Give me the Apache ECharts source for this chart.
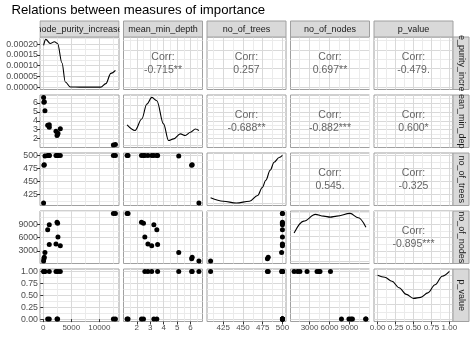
<!DOCTYPE html>
<html><head><meta charset="utf-8">
<script src="https://cdn.jsdelivr.net/npm/echarts@6/dist/echarts.min.js"></script>
<style>html,body{margin:0;padding:0;background:#fff}#c{width:474px;height:338px}</style>
</head><body><div id="c"></div>
<script>
// ---------- data ----------
const varNames = ['node_purity_increase','mean_min_depth','no_of_trees','no_of_nodes','p_value'];
const rowStripLabels = ['e_purity_incre','ean_min_dep','no_of_trees','no_of_nodes','p_value'];
const titleText = 'Relations between measures of importance';

const nodePurityIncrease = [60,120,180,300, 790,1070,1070,2450,2560,2620,2270,3040, 12500,12860];
const meanMinDepth       = [6.62,6.08,6.12,5.12, 3.49,3.27,3.55,2.35,2.5,2.6,2.83,3.11, 1.28,1.35];
const noOfTrees          = [409,481,482,499, 500,500,500,500,500,500,500,500, 500,500];
const noOfNodes          = [675,1200,1550,2625, 7800,8925,4425,9450,9225,6150,4575,4125, 11450,11480];
const pValue             = [1,1,1,1, 0,0,1,0,0,1,1,1, 0,0];

// density curves
const npiDensX   = [60,450,1230,2000,2550,3340,3930,4840,6500,8500,10250,11150,12050,12860];
const npiDensY   = [0.000194,0.000222,0.000203,0.000211,0.000203,0.000112,0.000024,0.0000005,0,0,0,0.000016,0.000064,0.000078];
const mmdDensX   = [1.28,1.87,2.37,2.75,3.12,3.49,3.99,4.36,4.74,5.24,5.61,5.99,6.36,6.62];
const mmdDensY   = [0.152,0.11,0.197,0.31,0.36,0.335,0.16,0.035,0.047,0.085,0.072,0.097,0.122,0.11];
const treesDensX = [409,425,441.6,458.3,468.6,474.5,479,484.5,489.5,495.8,500];
const treesDensY = [0.0031,0.0011,0.0001,0.0011,0.0045,0.0092,0.0134,0.0193,0.024,0.0268,0.028];
const nodesDensX = [675,2125,3870,5110,6110,7110,9100,10340,11480];
const nodesDensY = [5.72e-5,8.12e-5,9.49e-5,9.14e-5,8.94e-5,9.14e-5,9.7e-5,8.8e-5,6.9e-5];
const pDensX     = [0,0.1,0.2,0.3,0.4,0.5,0.6,0.7,0.8,0.9,1];
const pDensY     = [1.196,1.141,1.031,0.853,0.674,0.564,0.591,0.715,0.935,1.169,1.3];

// tick labels
const npiTicks   = [0,5000,10000];
const mmdTicks   = [2,3,4,5,6];
const treesTicks = [425,450,475,500];
const nodesTicks = [3000,6000,9000];
const pTicks     = [0,0.25,0.5,0.75,1];
const npiDensTicks   = [0,0.00005,0.0001,0.00015,0.0002];
const mmdDensTicks   = [0,0.1,0.2,0.3];
const treesDensTicks = [0,0.01,0.02];
const nodesDensTicks = [0,2.5e-5,5e-5,7.5e-5];
const pDensTicks     = [0,0.4,0.8,1.2];

// correlation labels (upper triangle, row by row)
const corrLabels = [
  ['-0.715**','0.257','0.697**','-0.479.'],
  ['-0.688**','-0.882***','0.600*'],
  ['0.545.','-0.325'],
  ['-0.895***']
];

// ---------- layout / style ----------
const FONT = 'Liberation Sans, Arial, sans-serif';
const W = 79, H = 52.5;
const colLeft = c => 40 + 83.5 * c;
const rowTop = r => 37 + 58 * r;
const BORDER = '#A0A0A0';
const MAJOR = '#D9D9D9', MINOR = '#EBEBEB';

const vars = [nodePurityIncrease, meanMinDepth, noOfTrees, noOfNodes, pValue];
const varTicks = [npiTicks, mmdTicks, treesTicks, nodesTicks, pTicks];
const densX = [npiDensX, mmdDensX, treesDensX, nodesDensX, pDensX];
const densY = [npiDensY, mmdDensY, treesDensY, nodesDensY, pDensY];
const densTicks = [npiDensTicks, mmdDensTicks, treesDensTicks, nodesDensTicks, pDensTicks];
const varFmt = [v => String(v), v => String(v), v => String(v), v => String(v), v => v.toFixed(2)];
const densFmt = v => v.toFixed(5);

function padExt(arr) { const mn = Math.min(...arr), mx = Math.max(...arr); const d = (mx - mn) * 0.05; return [mn - d, mx + d]; }
function densExt(arr) { const mx = Math.max(...arr); return [-0.05 * mx, 1.05 * mx]; }
function gridVals(majors, ext) {
  const step = (majors[1] - majors[0]) / 2;
  const vals = [], colors = [];
  const kMin = Math.floor((ext[0] - majors[0]) / step) - 1, kMax = Math.ceil((ext[1] - majors[0]) / step) + 1;
  for (let k = kMin; k <= kMax; k++) {
    const v = +(majors[0] + k * step).toPrecision(10);
    if (v > ext[0] && v < ext[1]) {
      vals.push(v);
      colors.push(majors.some(m => Math.abs(m - v) < step * 1e-6) ? MAJOR : MINOR);
    }
  }
  return {vals, colors};
}
function gridAxis(gi, ext, majors) {
  const g = gridVals(majors, ext);
  return {type: 'value', gridIndex: gi, min: ext[0], max: ext[1],
    axisLine: {show: false}, axisLabel: {show: false},
    axisTick: {show: false, customValues: g.vals},
    splitLine: {show: true, lineStyle: {color: g.colors, width: 1}}};
}
function labelAxis(gi, ext, majors, fmt, pos, fs) {
  return {type: 'value', gridIndex: gi, min: ext[0], max: ext[1], position: pos,
    axisLine: {show: false},
    axisTick: {show: true, length: 3, lineStyle: {color: '#333', width: 1}, customValues: majors},
    axisLabel: {show: true, customValues: majors, margin: 2, fontSize: fs, color: '#4D4D4D', fontFamily: FONT,
      formatter: fmt, hideOverlap: false, showMinLabel: true, showMaxLabel: true},
    splitLine: {show: false}};
}

const grids = [], xAxes = [], yAxes = [], series = [], graphic = [];
for (let r = 0; r < 5; r++) {
  for (let c = 0; c < 5; c++) {
    const i = r * 5 + c;
    grids.push({left: colLeft(c), top: rowTop(r), width: W, height: H, show: true,
      borderColor: BORDER, borderWidth: 1, backgroundColor: '#fff'});
    xAxes.push(gridAxis(i, padExt(vars[c]), varTicks[c]));
    if (r === c) yAxes.push(gridAxis(i, densExt(densY[c]), densTicks[c]));
    else yAxes.push(gridAxis(i, padExt(vars[r]), varTicks[r]));
    if (r === c) {
      series.push({type: 'line', xAxisIndex: i, yAxisIndex: i, showSymbol: false, symbol: 'none',
        smooth: 0.35, smoothMonotone: 'x', lineStyle: {color: '#000', width: 1.1},
        data: densX[c].map((x, k) => [x, densY[c][k]]), z: 3});
    } else if (r > c) {
      series.push({type: 'scatter', xAxisIndex: i, yAxisIndex: i, symbolSize: 5,
        itemStyle: {color: '#000', opacity: 1},
        data: vars[c].map((x, k) => [x, vars[r][k]]), z: 4});
    } else {
      const cx = colLeft(c) + W / 2, cy = rowTop(r) + H / 2;
      const lbl = corrLabels[r][c - r - 1];
      graphic.push({type: 'text', z: 5, style: {text: 'Corr:', x: cx, y: cy - 6.6, fill: '#666666', font: '10.5px ' + FONT, textAlign: 'center', textVerticalAlign: 'middle', verticalAlign: 'middle'}});
      graphic.push({type: 'text', z: 5, style: {text: lbl, x: cx, y: cy + 6.6, fill: '#666666', font: '10.5px ' + FONT, textAlign: 'center', textVerticalAlign: 'middle', verticalAlign: 'middle'}});
    }
  }
}
// outer label axes
for (let c = 0; c < 5; c++) {
  xAxes.push(labelAxis(20 + c, padExt(vars[c]), varTicks[c], varFmt[c], 'bottom', 8));
}
for (let r = 0; r < 5; r++) {
  if (r === 0) yAxes.push(labelAxis(0, densExt(densY[0]), densTicks[0], densFmt, 'left', 8.8));
  else yAxes.push(labelAxis(r * 5, padExt(vars[r]), varTicks[r], varFmt[r], 'left', 8.8));
}

// strips
for (let c = 0; c < 5; c++) {
  graphic.push({type: 'rect', z: 10, shape: {x: colLeft(c), y: 21, width: W, height: 16},
    style: {fill: '#D9D9D9', stroke: BORDER, lineWidth: 1}});
  graphic.push({type: 'text', z: 11, style: {text: varNames[c], x: colLeft(c) + W / 2, y: 29.5,
    fill: '#1A1A1A', font: '9px ' + FONT, textAlign: 'center', textVerticalAlign: 'middle', verticalAlign: 'middle'}});
}
// clip overflow of the first strip label
graphic.push({type: 'rect', z: 12, shape: {x: 20, y: 20, width: colLeft(0) - 20.6, height: 18}, style: {fill: '#fff'}});
graphic.push({type: 'rect', z: 12, shape: {x: colLeft(0) + W + 0.6, y: 20, width: colLeft(1) - colLeft(0) - W - 1.2, height: 18}, style: {fill: '#fff'}});
for (let r = 0; r < 5; r++) {
  graphic.push({type: 'rect', z: 10, shape: {x: 453, y: rowTop(r), width: 16, height: H},
    style: {fill: '#D9D9D9', stroke: BORDER, lineWidth: 1}});
  graphic.push({type: 'text', z: 11, x: 461.5, y: rowTop(r) + H / 2, rotation: -Math.PI / 2,
    style: {text: rowStripLabels[r], x: 0, y: 0, fill: '#1A1A1A', font: '9px ' + FONT,
      textAlign: 'center', textVerticalAlign: 'middle', verticalAlign: 'middle'}});
}
// title
graphic.push({type: 'text', z: 11, style: {text: titleText, x: 11.5, y: 10, fill: '#000',
  font: '13.2px ' + FONT, textAlign: 'left', textVerticalAlign: 'middle', verticalAlign: 'middle'}});

const chart = echarts.init(document.getElementById('c'), null, {renderer: 'canvas', width: 474, height: 338});
chart.setOption({
  animation: false,
  backgroundColor: '#fff',
  grid: grids, xAxis: xAxes, yAxis: yAxes, series: series, graphic: graphic
});
</script></body></html>
